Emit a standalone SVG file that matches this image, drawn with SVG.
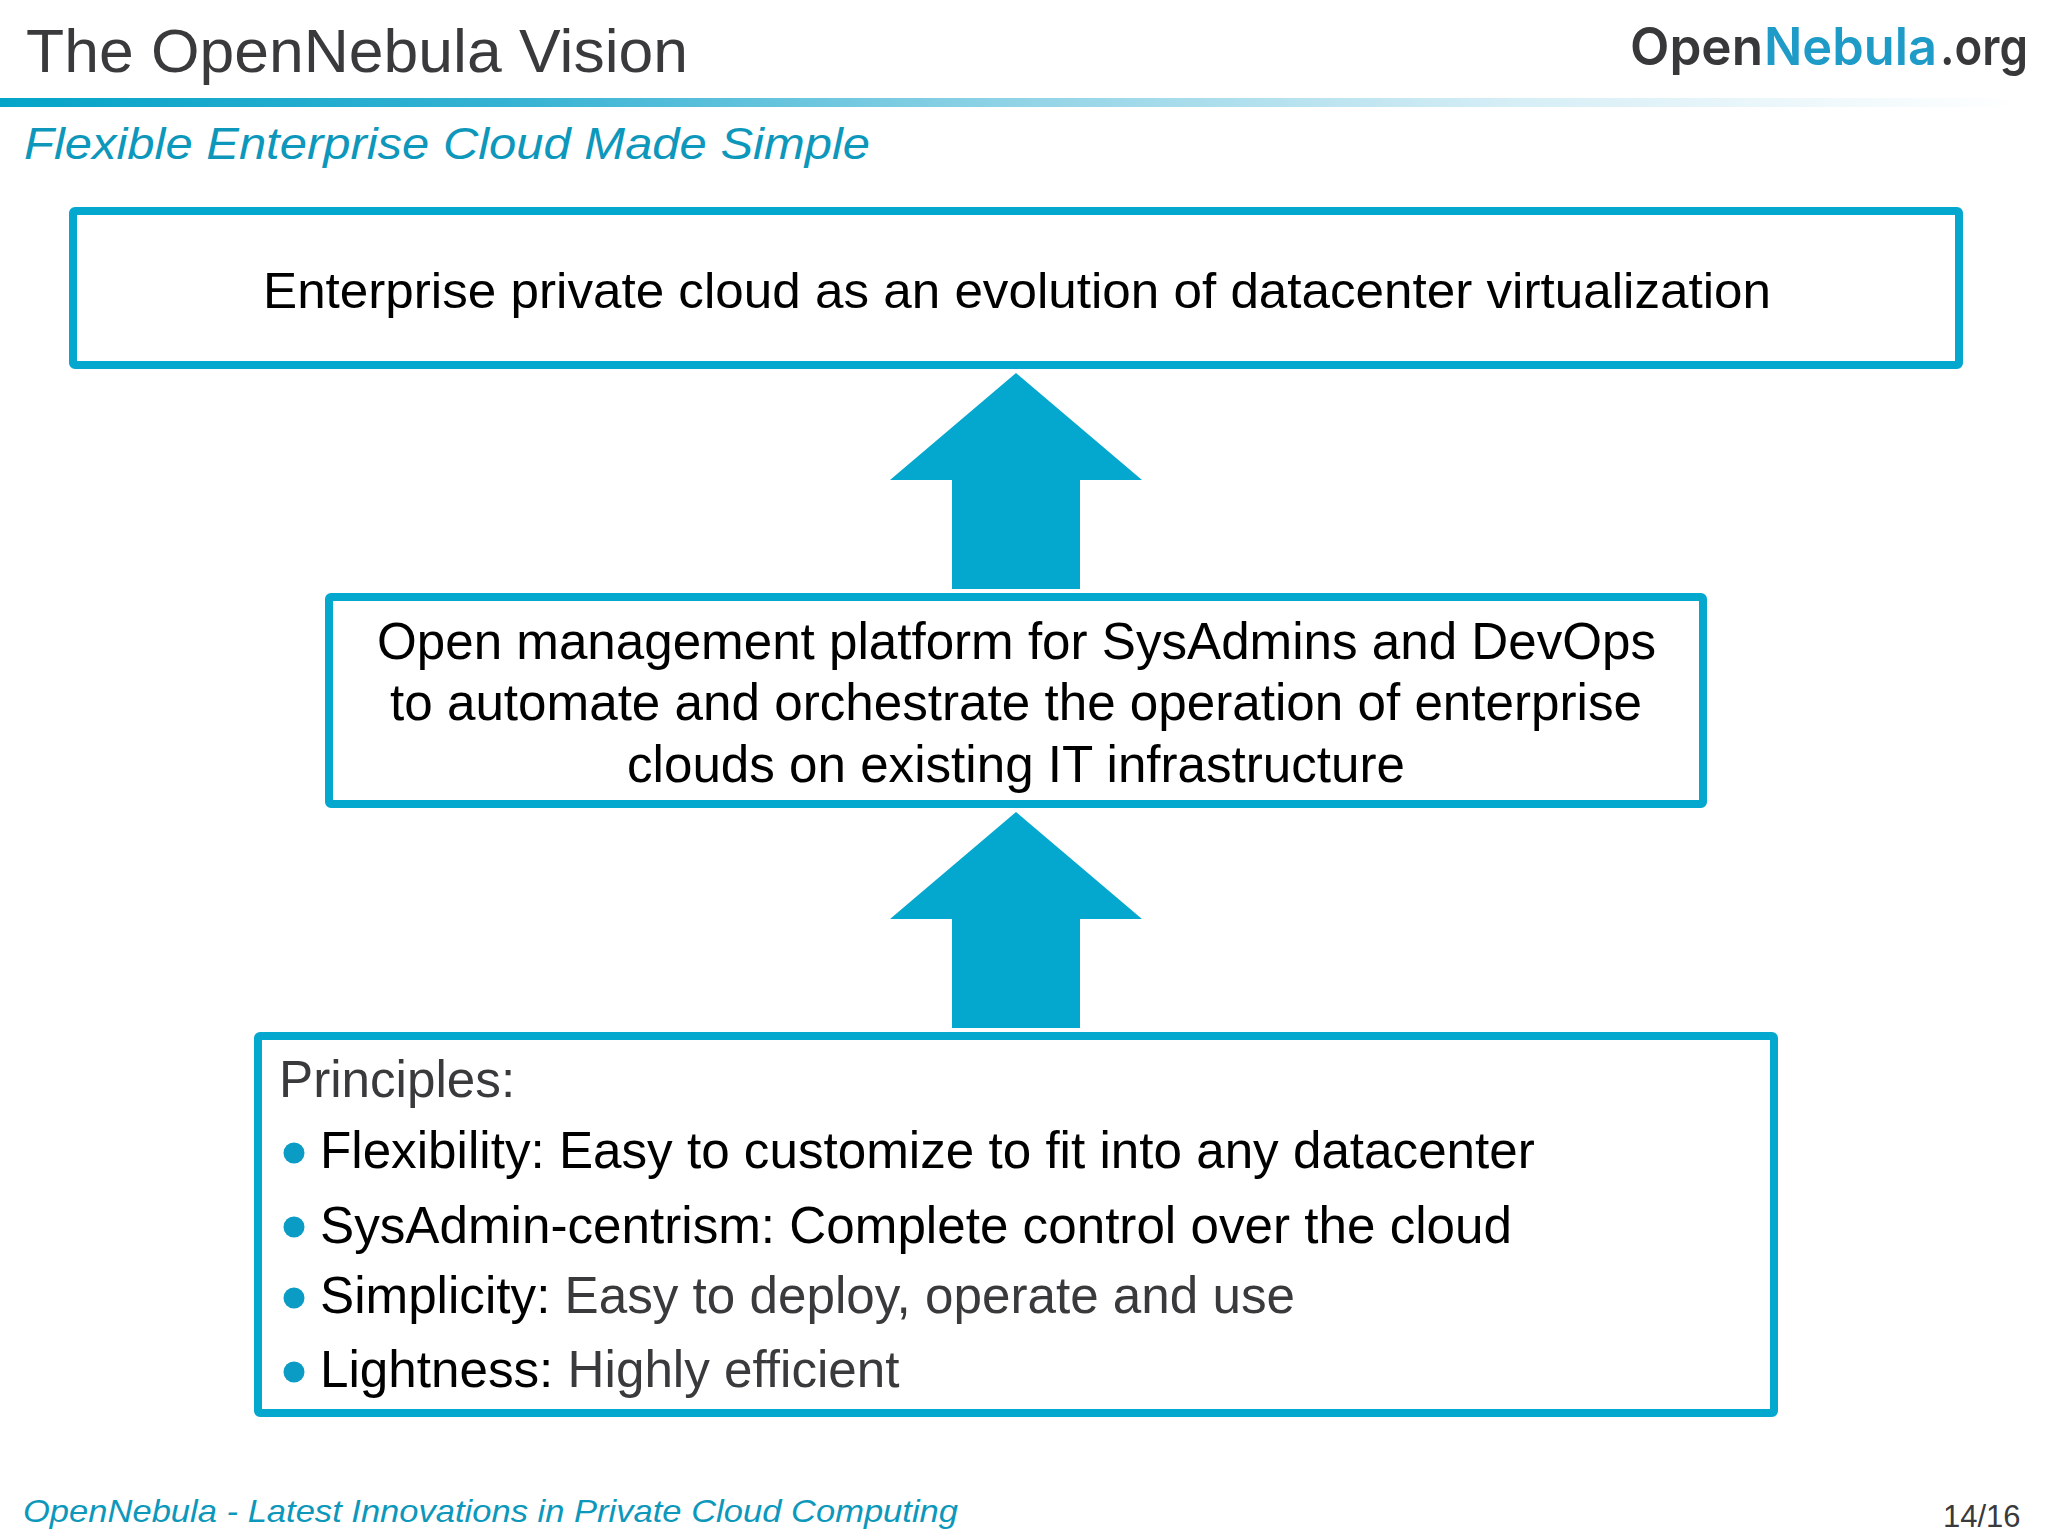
<svg xmlns="http://www.w3.org/2000/svg" width="2048" height="1536" viewBox="0 0 2048 1536">
<style>
text{font-family:"Liberation Sans",Arial,sans-serif;fill:#000}
.box{fill:#fff;stroke:#04a8ce;stroke-width:8;stroke-linejoin:round}
.arrow{fill:#04a8ce}
.main{font-size:51.2px}
.gray{fill:#3a3a3c}
.hand{font-style:italic;fill:#0d97bb}
.dot{fill:#0a9cc4}
.logo{font-family:Inter,"Liberation Sans",sans-serif;font-weight:600;font-size:52px;fill:#38383a}
.logo-blue{fill:#1f9bc7}
</style>
<defs>
<linearGradient id="bar" x1="0" x2="1" y1="0" y2="0">
<stop offset="0" stop-color="#04a4c8"/>
<stop offset="0.25" stop-color="#35b2d3"/>
<stop offset="0.5" stop-color="#90d3e6"/>
<stop offset="0.75" stop-color="#d6eef6"/>
<stop offset="1" stop-color="#ffffff"/>
</linearGradient>
</defs>
<rect width="2048" height="1536" fill="#fff"/>
<g id="header">
<text x="26" y="72" font-size="62" class="gray" textLength="662" lengthAdjust="spacingAndGlyphs">The OpenNebula Vision</text>
<text x="1630" y="65" class="logo" textLength="133" lengthAdjust="spacingAndGlyphs">Open</text>
<text x="1764" y="65" class="logo logo-blue" textLength="173" lengthAdjust="spacingAndGlyphs">Nebula</text>
<text x="1940" y="65" class="logo" textLength="88" lengthAdjust="spacingAndGlyphs">.org</text>
<rect x="0" y="98" width="2020" height="9" fill="url(#bar)"/>
<text x="24" y="159" font-size="44" class="hand" textLength="846" lengthAdjust="spacingAndGlyphs">Flexible Enterprise Cloud Made Simple</text>
</g>
<g id="connectors">
<polygon id="arrow-top" class="arrow" points="1016,373 1142,480 1080,480 1080,589 952,589 952,480 890,480"/>
<polygon id="arrow-bottom" class="arrow" points="1016,812 1142,919 1080,919 1080,1028 952,1028 952,919 890,919"/>
</g>
<g id="node-cloud">
<rect class="box" x="73" y="211" width="1886" height="154" rx="2"/>
<text style="font-size:50px" x="263" y="308" textLength="1508" lengthAdjust="spacingAndGlyphs">Enterprise private cloud as an evolution of datacenter virtualization</text>
</g>
<g id="node-platform">
<rect class="box" x="329" y="597" width="1374" height="207" rx="2"/>
<text class="main" x="377" y="659" textLength="1279" lengthAdjust="spacingAndGlyphs">Open management platform for SysAdmins and DevOps</text>
<text class="main" x="390" y="720" textLength="1252" lengthAdjust="spacingAndGlyphs">to automate and orchestrate the operation of enterprise</text>
<text class="main" x="627" y="782" textLength="778" lengthAdjust="spacingAndGlyphs">clouds on existing IT infrastructure</text>
</g>
<g id="node-principles">
<rect class="box" x="258" y="1036" width="1516" height="377" rx="2"/>
<text class="main gray" x="279" y="1097">Principles:</text>
<circle class="dot" cx="294" cy="1153" r="10.5"/>
<text class="main" x="320" y="1168">Flexibility: Easy to customize to fit into any datacenter</text>
<circle class="dot" cx="294" cy="1227" r="10.5"/>
<text class="main" x="320" y="1243">SysAdmin-centrism: Complete control over the cloud</text>
<circle class="dot" cx="294" cy="1298" r="10.5"/>
<text class="main" x="320" y="1313">Simplicity: <tspan class="gray">Easy to deploy, operate and use</tspan></text>
<circle class="dot" cx="294" cy="1372" r="10.5"/>
<text class="main" x="320" y="1387">Lightness: <tspan class="gray">Highly efficient</tspan></text>
</g>
<g id="footer">
<text x="23" y="1522" font-size="32" class="hand" textLength="935" lengthAdjust="spacingAndGlyphs">OpenNebula - Latest Innovations in Private Cloud Computing</text>
<text x="1943" y="1527" font-size="31" class="gray">14/16</text>
</g>
</svg>
